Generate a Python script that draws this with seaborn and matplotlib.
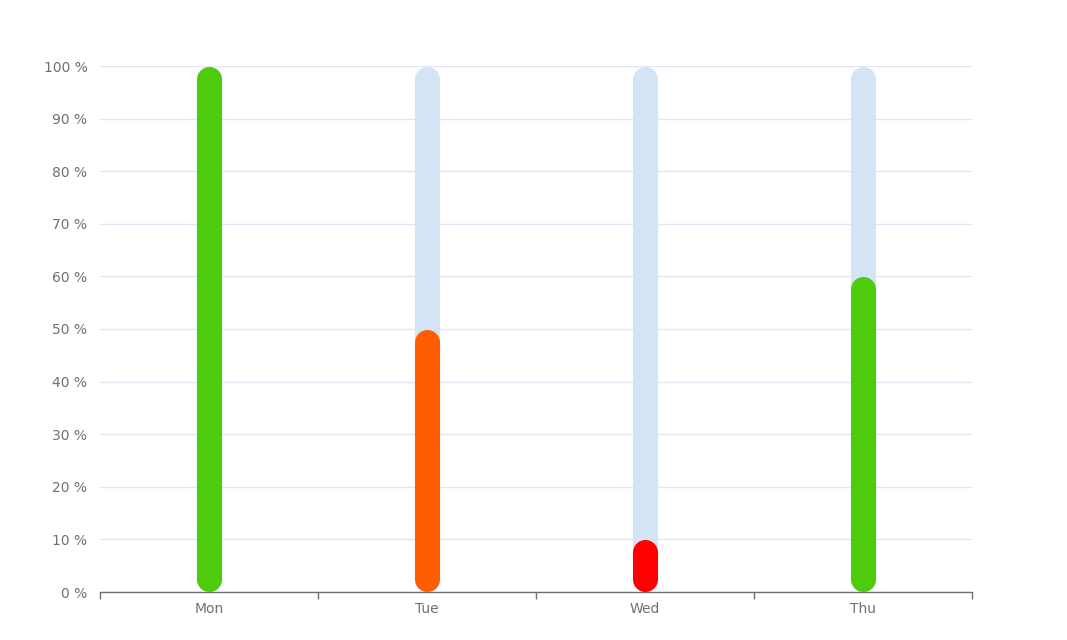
import matplotlib
matplotlib.use("Agg")
import matplotlib.pyplot as plt
import seaborn as sns
from matplotlib.ticker import FixedLocator

days = ["Mon", "Tue", "Wed", "Thu"]
background = [100, 100, 100, 100]
values = [100, 50, 10, 60]
bar_colors = ["#4ccc0a", "#ff5e00", "#ff0000", "#4ccc0a"]
bg_color = "#d3e5f5"
y_ticks = list(range(0, 101, 10))
y_labels = [f"{v} %" for v in y_ticks]

sns.set_theme(style="white")
plt.rcParams["font.family"] = ["DejaVu Sans"]

fig = plt.figure(figsize=(10.67, 6.4), dpi=100)
ax = fig.add_axes([100 / 1067, 48 / 640, 872 / 1067, 526 / 640])

bw = 0.115
sns.barplot(x=days, y=background, color=bg_color, width=bw, ax=ax, saturation=1, zorder=2)
sns.barplot(x=days, y=values, hue=days, palette=bar_colors, width=bw, ax=ax,
            saturation=1, legend=False, zorder=3)

ax.set_xlim(-0.5, 3.5)
ax.set_ylim(0, 100)

# convert bars to rounded (pill-shaped) bars
fig.canvas.draw()
x0p, y0p = ax.transData.transform((0, 0))
x1p, y1p = ax.transData.transform((1, 1))
px_per_x = x1p - x0p
px_per_y = y1p - y0p
for i, p in enumerate(list(ax.patches)):
    x, y = p.get_x(), p.get_y()
    w, h = p.get_width(), p.get_height()
    fc = p.get_facecolor()
    z = 2 if i < 4 else 3
    p.remove()
    wpx = w * px_per_x
    ry = (wpx / 2) / px_per_y
    cx = x + w / 2
    ax.plot([cx, cx], [y + ry, y + h - ry], color=fc, lw=wpx * 72 / fig.dpi,
            solid_capstyle="round", zorder=z)

ax.set_yticks(y_ticks)
ax.set_yticklabels(y_labels)
ax.yaxis.grid(True, color="#e0e6f1", lw=1, zorder=0)
ax.set_axisbelow(True)
ax.tick_params(axis="y", length=0, pad=9, labelsize=10, labelcolor="#6e7079")
ax.tick_params(axis="x", which="major", length=0, pad=7, labelsize=10, labelcolor="#6e7079")
ax.xaxis.set_minor_locator(FixedLocator([-0.5, 0.5, 1.5, 2.5, 3.5]))
ax.tick_params(axis="x", which="minor", length=5, width=1, color="#6e7079", bottom=True)
for s in ["left", "top", "right"]:
    ax.spines[s].set_visible(False)
ax.spines["bottom"].set_color("#6e7079")
ax.spines["bottom"].set_linewidth(1)
ax.set_xlabel("")
ax.set_ylabel("")

fig.savefig("out.png", dpi=100, facecolor="white")
